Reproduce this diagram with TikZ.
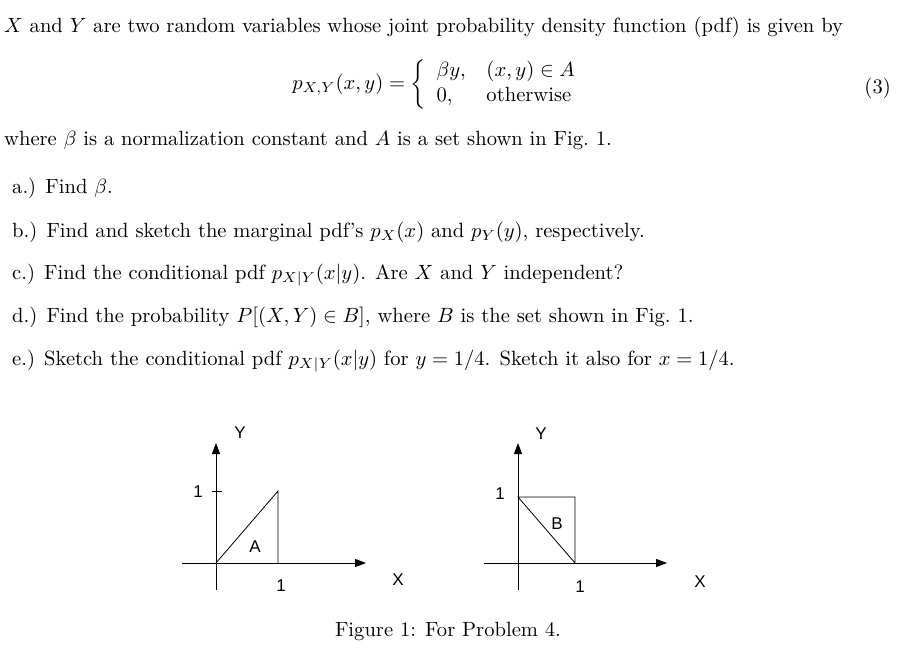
\documentclass[tikz,border=0pt]{standalone}
\usepackage{amsmath}
\usepackage{graphicx}
\usepackage{fontspec}
\newfontfamily\arialf{Liberation Sans}
\newcommand{\Tx}[1]{\scalebox{2.06}{#1}}
\usetikzlibrary{arrows.meta}
\begin{document}
\begin{tikzpicture}[x=1pt,y=-1pt,
  txt/.style={anchor=base west,inner sep=0pt},
  lab/.style={inner sep=0pt,font=\arialf\fontsize{17}{20}\selectfont},
  ax/.style={line width=1pt,-{Triangle[length=11pt,width=8pt]}},
  sh/.style={line width=0.8pt}]
\useasboundingbox[fill=white] (0,0) rectangle (901,649);
\node[txt] (l1) at (4,32) {\Tx{$X$ and $Y$ are two random variables whose joint probability density function (pdf) is given by}};
\node[txt,anchor=center] (eq) at (440,84) {\Tx{$p_{X,Y}(x,y)=\left\{\begin{array}{ll}\beta y, & (x,y)\in A\\ 0, & \text{otherwise}\end{array}\right.$}};
\node[txt,anchor=base east] (num) at (891,93) {\Tx{(3)}};
\node[txt] (l2) at (4,145) {\Tx{where $\beta$ is a normalization constant and $A$ is a set shown in Fig.~1.}};
\node[txt] (a) at (12,193) {\Tx{a.) Find $\beta$.}};
\node[txt] (b) at (12,237) {\Tx{b.) Find and sketch the marginal pdf's $p_X(x)$ and $p_Y(y)$, respectively.}};
\node[txt] (c) at (12,279) {\Tx{c.) Find the conditional pdf $p_{X|Y}(x|y)$. Are $X$ and $Y$ independent?}};
\node[txt] (d) at (12,322) {\Tx{d.) Find the probability $P[(X,Y)\in B]$, where $B$ is the set shown in Fig.~1.}};
\node[txt] (e) at (12,365) {\Tx{e.) Sketch the conditional pdf $p_{X|Y}(x|y)$ for $y=1/4$. Sketch it also for $x=1/4$.}};
\node[txt,anchor=base] (cap) at (448,636) {\Tx{Figure 1: For Problem 4.}};
% left figure
\coordinate (o1) at (216,563);
\coordinate (yb1) at (216,590); \coordinate (yt1) at (216,443);
\coordinate (xl1) at (182,563); \coordinate (xr1) at (366,563);
\draw[ax] (yb1) -- (yt1);
\draw[ax] (xl1) -- (xr1);
\coordinate (t1) at (278,491); \coordinate (t2) at (278,563);
\draw[sh] (o1) -- (t1) -- (t2);
\coordinate (tk1) at (212,491); \coordinate (tk2) at (222,491);
\draw[sh] (tk1) -- (tk2);
\node[lab] (ly1) at (240,433) {Y};
\node[lab] (lx1) at (398,580) {X};
\node[lab] (l11) at (198,492) {1};
\node[lab] (l12) at (281,586) {1};
\node[lab] (lA) at (255,547) {A};
% right figure
\coordinate (o2) at (518,563);
\coordinate (yb2) at (518,590); \coordinate (yt2) at (518,443);
\coordinate (xl2) at (484,563); \coordinate (xr2) at (667,563);
\draw[ax] (yb2) -- (yt2);
\draw[ax] (xl2) -- (xr2);
\coordinate (s1) at (518,497); \coordinate (s2) at (575,497); \coordinate (s3) at (575,563);
\draw[sh] (s1) -- (s2) -- (s3) -- cycle;
\node[lab] (ly2) at (541,434) {Y};
\node[lab] (lx2) at (700,582) {X};
\node[lab] (l21) at (500,494) {1};
\node[lab] (l22) at (580,587) {1};
\node[lab] (lB) at (557,524) {B};
\end{tikzpicture}
\end{document}
